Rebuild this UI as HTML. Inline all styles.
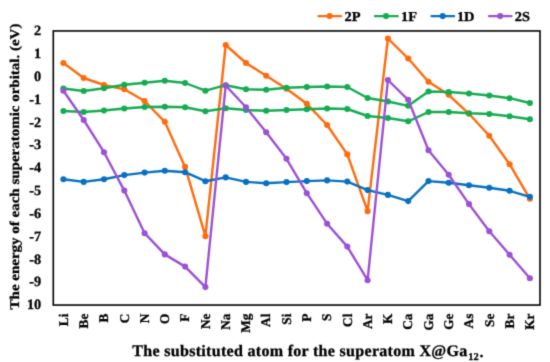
<!DOCTYPE html>
<html><head><meta charset="utf-8"><title>chart</title>
<style>html,body{margin:0;padding:0;background:#fff;}body{width:550px;height:362px;overflow:hidden;}</style></head>
<body>
<svg width="550" height="362" viewBox="0 0 550 362" style="display:block">
<defs><filter id="soft" x="-2%" y="-2%" width="104%" height="104%" color-interpolation-filters="sRGB"><feConvolveMatrix order="3" kernelMatrix="1 5 1 5 25 5 1 5 1" divisor="49" edgeMode="duplicate" preserveAlpha="true"/></filter></defs>
<g filter="url(#soft)">
<rect x="-5" y="-5" width="560" height="372" fill="#fff"/>
<polyline points="63.4,63.0 83.7,78.0 104.0,85.0 124.3,89.3 144.6,101.0 164.8,121.8 185.1,166.9 205.4,236.2 225.7,45.0 246.0,63.0 266.2,75.8 286.5,88.8 306.8,103.8 327.1,125.0 347.3,154.4 367.6,211.2 387.9,38.5 408.2,58.5 428.5,81.8 448.7,94.8 469.0,113.8 489.3,135.8 509.6,164.2 529.9,198.8" fill="none" stroke="#FF6A0D" stroke-width="2.4" stroke-linejoin="round" stroke-linecap="round"/>
<circle cx="63.4" cy="63.0" r="3.05" fill="#FF6A0D"/><circle cx="83.7" cy="78.0" r="3.05" fill="#FF6A0D"/><circle cx="104.0" cy="85.0" r="3.05" fill="#FF6A0D"/><circle cx="124.3" cy="89.3" r="3.05" fill="#FF6A0D"/><circle cx="144.6" cy="101.0" r="3.05" fill="#FF6A0D"/><circle cx="164.8" cy="121.8" r="3.05" fill="#FF6A0D"/><circle cx="185.1" cy="166.9" r="3.05" fill="#FF6A0D"/><circle cx="205.4" cy="236.2" r="3.05" fill="#FF6A0D"/><circle cx="225.7" cy="45.0" r="3.05" fill="#FF6A0D"/><circle cx="246.0" cy="63.0" r="3.05" fill="#FF6A0D"/><circle cx="266.2" cy="75.8" r="3.05" fill="#FF6A0D"/><circle cx="286.5" cy="88.8" r="3.05" fill="#FF6A0D"/><circle cx="306.8" cy="103.8" r="3.05" fill="#FF6A0D"/><circle cx="327.1" cy="125.0" r="3.05" fill="#FF6A0D"/><circle cx="347.3" cy="154.4" r="3.05" fill="#FF6A0D"/><circle cx="367.6" cy="211.2" r="3.05" fill="#FF6A0D"/><circle cx="387.9" cy="38.5" r="3.05" fill="#FF6A0D"/><circle cx="408.2" cy="58.5" r="3.05" fill="#FF6A0D"/><circle cx="428.5" cy="81.8" r="3.05" fill="#FF6A0D"/><circle cx="448.7" cy="94.8" r="3.05" fill="#FF6A0D"/><circle cx="469.0" cy="113.8" r="3.05" fill="#FF6A0D"/><circle cx="489.3" cy="135.8" r="3.05" fill="#FF6A0D"/><circle cx="509.6" cy="164.2" r="3.05" fill="#FF6A0D"/><circle cx="529.9" cy="198.8" r="3.05" fill="#FF6A0D"/>

<polyline points="63.4,88.5 83.7,91.0 104.0,88.3 124.3,84.8 144.6,82.8 164.8,80.8 185.1,83.0 205.4,90.7 225.7,85.2 246.0,89.3 266.2,89.7 286.5,87.8 306.8,87.0 327.1,86.5 347.3,87.0 367.6,98.0 387.9,101.5 408.2,105.8 428.5,91.5 448.7,92.0 469.0,93.5 489.3,95.5 509.6,98.2 529.9,103.0" fill="none" stroke="#14AC50" stroke-width="2.4" stroke-linejoin="round" stroke-linecap="round"/>
<circle cx="63.4" cy="88.5" r="3.05" fill="#14AC50"/><circle cx="83.7" cy="91.0" r="3.05" fill="#14AC50"/><circle cx="104.0" cy="88.3" r="3.05" fill="#14AC50"/><circle cx="124.3" cy="84.8" r="3.05" fill="#14AC50"/><circle cx="144.6" cy="82.8" r="3.05" fill="#14AC50"/><circle cx="164.8" cy="80.8" r="3.05" fill="#14AC50"/><circle cx="185.1" cy="83.0" r="3.05" fill="#14AC50"/><circle cx="205.4" cy="90.7" r="3.05" fill="#14AC50"/><circle cx="225.7" cy="85.2" r="3.05" fill="#14AC50"/><circle cx="246.0" cy="89.3" r="3.05" fill="#14AC50"/><circle cx="266.2" cy="89.7" r="3.05" fill="#14AC50"/><circle cx="286.5" cy="87.8" r="3.05" fill="#14AC50"/><circle cx="306.8" cy="87.0" r="3.05" fill="#14AC50"/><circle cx="327.1" cy="86.5" r="3.05" fill="#14AC50"/><circle cx="347.3" cy="87.0" r="3.05" fill="#14AC50"/><circle cx="367.6" cy="98.0" r="3.05" fill="#14AC50"/><circle cx="387.9" cy="101.5" r="3.05" fill="#14AC50"/><circle cx="408.2" cy="105.8" r="3.05" fill="#14AC50"/><circle cx="428.5" cy="91.5" r="3.05" fill="#14AC50"/><circle cx="448.7" cy="92.0" r="3.05" fill="#14AC50"/><circle cx="469.0" cy="93.5" r="3.05" fill="#14AC50"/><circle cx="489.3" cy="95.5" r="3.05" fill="#14AC50"/><circle cx="509.6" cy="98.2" r="3.05" fill="#14AC50"/><circle cx="529.9" cy="103.0" r="3.05" fill="#14AC50"/>

<polyline points="63.4,111.0 83.7,112.0 104.0,110.5 124.3,108.5 144.6,107.0 164.8,106.7 185.1,107.2 205.4,111.2 225.7,108.2 246.0,110.0 266.2,110.8 286.5,110.0 306.8,109.2 327.1,108.5 347.3,109.0 367.6,116.0 387.9,118.0 408.2,121.3 428.5,112.0 448.7,112.0 469.0,113.3 489.3,114.0 509.6,116.2 529.9,119.3" fill="none" stroke="#14AC50" stroke-width="2.4" stroke-linejoin="round" stroke-linecap="round"/>
<circle cx="63.4" cy="111.0" r="3.05" fill="#14AC50"/><circle cx="83.7" cy="112.0" r="3.05" fill="#14AC50"/><circle cx="104.0" cy="110.5" r="3.05" fill="#14AC50"/><circle cx="124.3" cy="108.5" r="3.05" fill="#14AC50"/><circle cx="144.6" cy="107.0" r="3.05" fill="#14AC50"/><circle cx="164.8" cy="106.7" r="3.05" fill="#14AC50"/><circle cx="185.1" cy="107.2" r="3.05" fill="#14AC50"/><circle cx="205.4" cy="111.2" r="3.05" fill="#14AC50"/><circle cx="225.7" cy="108.2" r="3.05" fill="#14AC50"/><circle cx="246.0" cy="110.0" r="3.05" fill="#14AC50"/><circle cx="266.2" cy="110.8" r="3.05" fill="#14AC50"/><circle cx="286.5" cy="110.0" r="3.05" fill="#14AC50"/><circle cx="306.8" cy="109.2" r="3.05" fill="#14AC50"/><circle cx="327.1" cy="108.5" r="3.05" fill="#14AC50"/><circle cx="347.3" cy="109.0" r="3.05" fill="#14AC50"/><circle cx="367.6" cy="116.0" r="3.05" fill="#14AC50"/><circle cx="387.9" cy="118.0" r="3.05" fill="#14AC50"/><circle cx="408.2" cy="121.3" r="3.05" fill="#14AC50"/><circle cx="428.5" cy="112.0" r="3.05" fill="#14AC50"/><circle cx="448.7" cy="112.0" r="3.05" fill="#14AC50"/><circle cx="469.0" cy="113.3" r="3.05" fill="#14AC50"/><circle cx="489.3" cy="114.0" r="3.05" fill="#14AC50"/><circle cx="509.6" cy="116.2" r="3.05" fill="#14AC50"/><circle cx="529.9" cy="119.3" r="3.05" fill="#14AC50"/>

<polyline points="63.4,179.3 83.7,181.9 104.0,179.2 124.3,175.1 144.6,172.6 164.8,170.8 185.1,172.2 205.4,181.2 225.7,177.4 246.0,181.9 266.2,183.2 286.5,182.1 306.8,181.1 327.1,180.4 347.3,181.6 367.6,190.1 387.9,194.9 408.2,201.1 428.5,181.1 448.7,182.8 469.0,185.2 489.3,187.7 509.6,190.8 529.9,196.8" fill="none" stroke="#0670C2" stroke-width="2.4" stroke-linejoin="round" stroke-linecap="round"/>
<circle cx="63.4" cy="179.3" r="3.05" fill="#0670C2"/><circle cx="83.7" cy="181.9" r="3.05" fill="#0670C2"/><circle cx="104.0" cy="179.2" r="3.05" fill="#0670C2"/><circle cx="124.3" cy="175.1" r="3.05" fill="#0670C2"/><circle cx="144.6" cy="172.6" r="3.05" fill="#0670C2"/><circle cx="164.8" cy="170.8" r="3.05" fill="#0670C2"/><circle cx="185.1" cy="172.2" r="3.05" fill="#0670C2"/><circle cx="205.4" cy="181.2" r="3.05" fill="#0670C2"/><circle cx="225.7" cy="177.4" r="3.05" fill="#0670C2"/><circle cx="246.0" cy="181.9" r="3.05" fill="#0670C2"/><circle cx="266.2" cy="183.2" r="3.05" fill="#0670C2"/><circle cx="286.5" cy="182.1" r="3.05" fill="#0670C2"/><circle cx="306.8" cy="181.1" r="3.05" fill="#0670C2"/><circle cx="327.1" cy="180.4" r="3.05" fill="#0670C2"/><circle cx="347.3" cy="181.6" r="3.05" fill="#0670C2"/><circle cx="367.6" cy="190.1" r="3.05" fill="#0670C2"/><circle cx="387.9" cy="194.9" r="3.05" fill="#0670C2"/><circle cx="408.2" cy="201.1" r="3.05" fill="#0670C2"/><circle cx="428.5" cy="181.1" r="3.05" fill="#0670C2"/><circle cx="448.7" cy="182.8" r="3.05" fill="#0670C2"/><circle cx="469.0" cy="185.2" r="3.05" fill="#0670C2"/><circle cx="489.3" cy="187.7" r="3.05" fill="#0670C2"/><circle cx="509.6" cy="190.8" r="3.05" fill="#0670C2"/><circle cx="529.9" cy="196.8" r="3.05" fill="#0670C2"/>

<polyline points="63.4,90.8 83.7,120.0 104.0,152.2 124.3,190.6 144.6,233.2 164.8,254.4 185.1,266.6 205.4,287.1 225.7,85.5 246.0,107.2 266.2,132.3 286.5,158.8 306.8,193.2 327.1,223.7 347.3,246.6 367.6,280.2 387.9,80.0 408.2,99.8 428.5,150.3 448.7,174.8 469.0,204.1 489.3,231.3 509.6,254.8 529.9,278.2" fill="none" stroke="#9B50D6" stroke-width="2.4" stroke-linejoin="round" stroke-linecap="round"/>
<circle cx="63.4" cy="90.8" r="3.05" fill="#9B50D6"/><circle cx="83.7" cy="120.0" r="3.05" fill="#9B50D6"/><circle cx="104.0" cy="152.2" r="3.05" fill="#9B50D6"/><circle cx="124.3" cy="190.6" r="3.05" fill="#9B50D6"/><circle cx="144.6" cy="233.2" r="3.05" fill="#9B50D6"/><circle cx="164.8" cy="254.4" r="3.05" fill="#9B50D6"/><circle cx="185.1" cy="266.6" r="3.05" fill="#9B50D6"/><circle cx="205.4" cy="287.1" r="3.05" fill="#9B50D6"/><circle cx="225.7" cy="85.5" r="3.05" fill="#9B50D6"/><circle cx="246.0" cy="107.2" r="3.05" fill="#9B50D6"/><circle cx="266.2" cy="132.3" r="3.05" fill="#9B50D6"/><circle cx="286.5" cy="158.8" r="3.05" fill="#9B50D6"/><circle cx="306.8" cy="193.2" r="3.05" fill="#9B50D6"/><circle cx="327.1" cy="223.7" r="3.05" fill="#9B50D6"/><circle cx="347.3" cy="246.6" r="3.05" fill="#9B50D6"/><circle cx="367.6" cy="280.2" r="3.05" fill="#9B50D6"/><circle cx="387.9" cy="80.0" r="3.05" fill="#9B50D6"/><circle cx="408.2" cy="99.8" r="3.05" fill="#9B50D6"/><circle cx="428.5" cy="150.3" r="3.05" fill="#9B50D6"/><circle cx="448.7" cy="174.8" r="3.05" fill="#9B50D6"/><circle cx="469.0" cy="204.1" r="3.05" fill="#9B50D6"/><circle cx="489.3" cy="231.3" r="3.05" fill="#9B50D6"/><circle cx="509.6" cy="254.8" r="3.05" fill="#9B50D6"/><circle cx="529.9" cy="278.2" r="3.05" fill="#9B50D6"/>

<rect x="53.3" y="30.95" width="486.7" height="274.1" fill="none" stroke="#000" stroke-width="1.6"/>
<g font-family="'Liberation Serif', serif" font-weight="bold" stroke="#000" stroke-width="0.3" text-rendering="geometricPrecision" font-size="14.3px" fill="#000" text-anchor="end">
<text x="41.2" y="35.20">2</text>
<text x="41.2" y="58.04">1</text>
<text x="41.2" y="80.88">0</text>
<text x="41.2" y="103.73">-1</text>
<text x="41.2" y="126.57">-2</text>
<text x="41.2" y="149.41">-3</text>
<text x="41.2" y="172.25">-4</text>
<text x="41.2" y="195.09">-5</text>
<text x="41.2" y="217.93">-6</text>
<text x="41.2" y="240.78">-7</text>
<text x="41.2" y="263.62">-8</text>
<text x="41.2" y="286.46">-9</text>
<text x="41.2" y="309.30">10</text>
</g>
<g font-family="'Liberation Serif', serif" font-weight="bold" stroke="#000" stroke-width="0.3" text-rendering="geometricPrecision" font-size="13.3px" fill="#000" text-anchor="end">
<text transform="translate(67.6,313.6) rotate(-90)">Li</text>
<text transform="translate(87.9,313.6) rotate(-90)">Be</text>
<text transform="translate(108.2,313.6) rotate(-90)">B</text>
<text transform="translate(128.5,313.6) rotate(-90)">C</text>
<text transform="translate(148.8,313.6) rotate(-90)">N</text>
<text transform="translate(169.0,313.6) rotate(-90)">O</text>
<text transform="translate(189.3,313.6) rotate(-90)">F</text>
<text transform="translate(209.6,313.6) rotate(-90)">Ne</text>
<text transform="translate(229.9,313.6) rotate(-90)">Na</text>
<text transform="translate(250.2,313.6) rotate(-90)">Mg</text>
<text transform="translate(270.4,313.6) rotate(-90)">Al</text>
<text transform="translate(290.7,313.6) rotate(-90)">Si</text>
<text transform="translate(311.0,313.6) rotate(-90)">P</text>
<text transform="translate(331.3,313.6) rotate(-90)">S</text>
<text transform="translate(351.5,313.6) rotate(-90)">Cl</text>
<text transform="translate(371.8,313.6) rotate(-90)">Ar</text>
<text transform="translate(392.1,313.6) rotate(-90)">K</text>
<text transform="translate(412.4,313.6) rotate(-90)">Ca</text>
<text transform="translate(432.7,313.6) rotate(-90)">Ga</text>
<text transform="translate(452.9,313.6) rotate(-90)">Ge</text>
<text transform="translate(473.2,313.6) rotate(-90)">As</text>
<text transform="translate(493.5,313.6) rotate(-90)">Se</text>
<text transform="translate(513.8,313.6) rotate(-90)">Br</text>
<text transform="translate(534.1,313.6) rotate(-90)">Kr</text>
</g>
<circle cx="26.6" cy="305.6" r="0.7" fill="#c8c8c8"/>
<text transform="translate(18.9,309.4) rotate(-90)" font-family="'Liberation Serif', serif" font-weight="bold" stroke="#000" stroke-width="0.3" text-rendering="geometricPrecision" font-size="13.3px" textLength="285.8" lengthAdjust="spacingAndGlyphs">The energy of each superatomic orbital. (eV)</text>
<text x="132.3" y="356.3" font-family="'Liberation Serif', serif" font-weight="bold" stroke="#000" stroke-width="0.3" text-rendering="geometricPrecision" font-size="16px" textLength="335" lengthAdjust="spacing">The substituted atom for the superatom X@Ga</text>
<text x="468.3" y="359.6" font-family="'Liberation Serif', serif" font-weight="bold" stroke="#000" stroke-width="0.3" text-rendering="geometricPrecision" font-size="10.4px">12</text>
<text x="479.4" y="357.4" font-family="'Liberation Serif', serif" font-weight="bold" stroke="#000" stroke-width="0.3" text-rendering="geometricPrecision" font-size="16px">.</text>
<g font-family="'Liberation Serif', serif" font-weight="bold" stroke="#000" stroke-width="0.3" text-rendering="geometricPrecision" font-size="13.6px" fill="#000">
<line x1="318.55" y1="16.1" x2="341.05" y2="16.1" stroke="#FF6A0D" stroke-width="2.4" stroke-linecap="round"/><circle cx="329.6" cy="16.1" r="3.05" fill="#FF6A0D" stroke="none"/><text x="344.5" y="20.7" textLength="16.0" lengthAdjust="spacingAndGlyphs">2P</text>
<line x1="375.05" y1="16.1" x2="397.65" y2="16.1" stroke="#14AC50" stroke-width="2.4" stroke-linecap="round"/><circle cx="386" cy="16.1" r="3.05" fill="#14AC50" stroke="none"/><text x="401.1" y="20.7" textLength="16.0" lengthAdjust="spacingAndGlyphs">1F</text>
<line x1="431.55" y1="16.1" x2="454.05" y2="16.1" stroke="#0670C2" stroke-width="2.4" stroke-linecap="round"/><circle cx="442.7" cy="16.1" r="3.05" fill="#0670C2" stroke="none"/><text x="456.9" y="20.7" textLength="17.6" lengthAdjust="spacingAndGlyphs">1D</text>
<line x1="489.05" y1="16.1" x2="511.45" y2="16.1" stroke="#9B50D6" stroke-width="2.4" stroke-linecap="round"/><circle cx="500.2" cy="16.1" r="3.05" fill="#9B50D6" stroke="none"/><text x="514.8" y="20.7" textLength="15.2" lengthAdjust="spacingAndGlyphs">2S</text>
</g>
</g>
</svg>
</body></html>
